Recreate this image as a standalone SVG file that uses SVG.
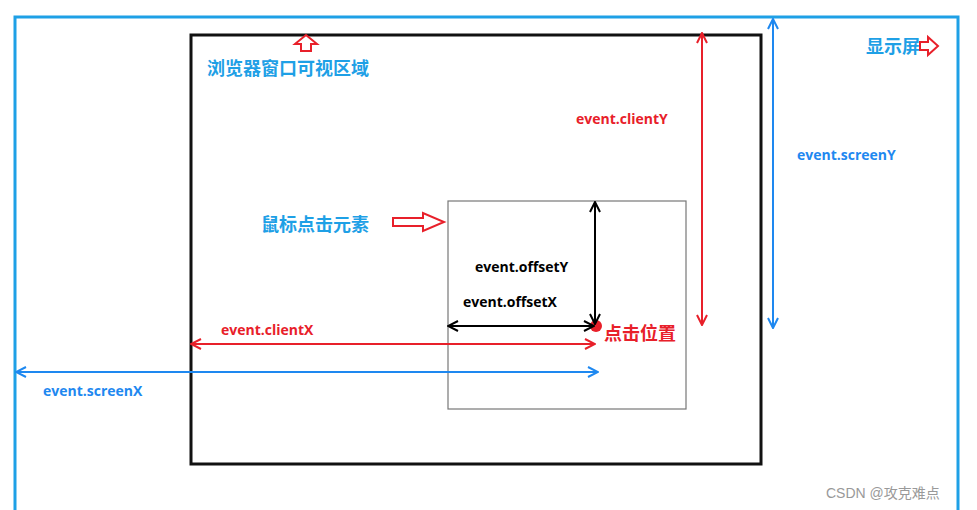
<svg xmlns="http://www.w3.org/2000/svg" width="977" height="510" viewBox="0 0 977 510">
<defs>
<style>
.cn{font-family:"Noto Sans CJK SC",sans-serif;font-weight:bold}
.en{font-family:"Open Sans","DejaVu Sans",sans-serif;font-weight:bold;font-size:14px}
.hollow{fill:#fff;stroke:#e8202a;stroke-width:2}
</style>
<marker id="hb" viewBox="0 0 12 12" refX="11" refY="6" markerWidth="12" markerHeight="12" markerUnits="userSpaceOnUse" orient="auto-start-reverse"><path d="M1,1 L11,6 L1,11" fill="none" stroke="#1e88f0" stroke-width="2"/></marker>
<marker id="hr" viewBox="0 0 12 12" refX="11" refY="6" markerWidth="12" markerHeight="12" markerUnits="userSpaceOnUse" orient="auto-start-reverse"><path d="M1,1 L11,6 L1,11" fill="none" stroke="#e8202a" stroke-width="2"/></marker>
<marker id="hk" viewBox="0 0 12 12" refX="11" refY="6" markerWidth="12" markerHeight="12" markerUnits="userSpaceOnUse" orient="auto-start-reverse"><path d="M1,1 L11,6 L1,11" fill="none" stroke="#000" stroke-width="2"/></marker>
</defs>
<rect width="977" height="510" fill="#fff"/>
<g id="screen">
<path d="M15,510 V17 H958 V510" fill="none" stroke="#1ea0e6" stroke-width="3"/>
<text class="cn" x="866" y="53" font-size="18" fill="#1ea0e6">显示屏</text>
<path class="hollow" d="M920,42 h8 v-5 l10,9 l-10,9 v-5 h-8 z"/>
</g>
<g id="browser">
<rect x="191" y="35" width="570" height="429" fill="none" stroke="#111" stroke-width="3"/>
<text class="cn" x="207" y="75" font-size="18" fill="#1ea0e6">浏览器窗口可视区域</text>
<path class="hollow" d="M301,51 v-7 h-6 l11,-9 l11,9 h-6 v7 z"/>
</g>
<g id="element">
<rect x="448" y="201" width="238" height="208" fill="none" stroke="#777" stroke-width="1.2"/>
<text class="cn" x="261" y="231" font-size="18" fill="#1ea0e6">鼠标点击元素</text>
<path class="hollow" d="M393,218 h30 v-5 l21,9 l-21,9 v-5 h-30 z"/>
</g>
<g id="click">
<circle cx="596" cy="326" r="6" fill="#e8202a"/>
<text class="cn" x="604" y="340" font-size="18" fill="#e8202a">点击位置</text>
</g>
<g id="connectors" fill="none" stroke-width="2">
<line x1="773" y1="19" x2="773" y2="328" stroke="#1e88f0" marker-start="url(#hb)" marker-end="url(#hb)"/>
<line x1="702" y1="33" x2="702" y2="325" stroke="#e8202a" marker-start="url(#hr)" marker-end="url(#hr)"/>
<line x1="595" y1="202" x2="595" y2="324" stroke="#000" marker-start="url(#hk)" marker-end="url(#hk)"/>
<line x1="448" y1="326" x2="594" y2="326" stroke="#000" marker-start="url(#hk)" marker-end="url(#hk)"/>
<line x1="191" y1="344" x2="595" y2="344" stroke="#e8202a" marker-start="url(#hr)" marker-end="url(#hr)"/>
<line x1="16" y1="372" x2="598" y2="372" stroke="#1e88f0" marker-start="url(#hb)" marker-end="url(#hb)"/>
</g>
<g id="labels">
<text class="en" x="576" y="124" fill="#e8202a">event.clientY</text>
<text class="en" x="797" y="160" fill="#1e88f0">event.screenY</text>
<text class="en" x="475" y="272" fill="#000">event.offsetY</text>
<text class="en" x="463" y="307" fill="#000">event.offsetX</text>
<text class="en" x="221" y="335" fill="#e8202a">event.clientX</text>
<text class="en" x="43" y="396" fill="#1e88f0">event.screenX</text>
<text x="826" y="498" font-family="Liberation Sans,Noto Sans CJK SC,sans-serif" font-size="14" fill="#999">CSDN @攻克难点</text>
</g>
</svg>
